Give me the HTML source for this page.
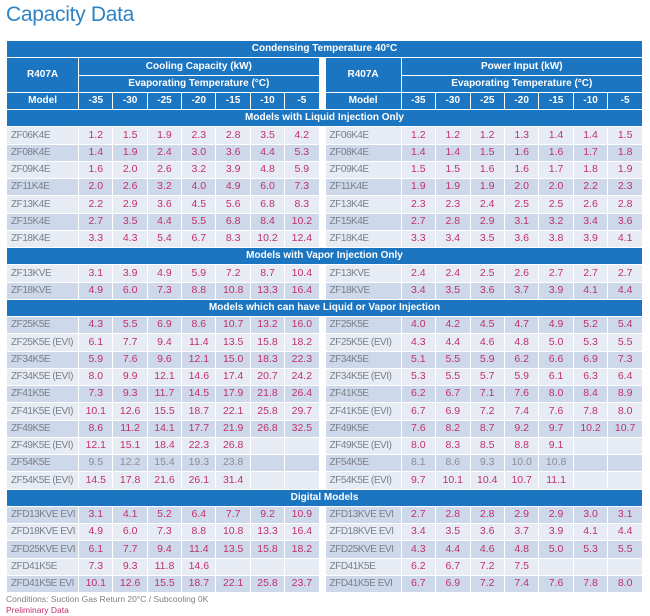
<!DOCTYPE html>
<html><head><meta charset="utf-8"><style>
body{margin:0;width:650px;height:616px;background:#fff;font-family:"Liberation Sans",sans-serif;position:relative;overflow:hidden}
h1{position:absolute;left:6px;top:3px;margin:0;font-weight:normal;font-size:21px;color:#2f83c2;letter-spacing:-0.3px}
table{position:absolute;left:6px;top:40px;border-collapse:collapse;table-layout:fixed;width:637px}
tr{height:17.25px}
td{height:15.5px;line-height:15.5px;padding:0;font-size:10px;text-align:center;vertical-align:middle;border:1px solid #fff;overflow:hidden;white-space:nowrap}
.h td{background:#1b75c1;color:#fff;font-weight:bold}
.h td.g{background:#a9bfdc;border:none}
.s td{background:#1b75c1;color:#fff;font-weight:bold;font-size:10px}
td.m{text-align:left;padding-left:4px;color:#7a7f88;font-size:10px;letter-spacing:-0.45px}
.L td{background:#e7ebf3}
.B td{background:#cdd9eb}
td.v{color:#c0306d;font-size:10.5px}
td.x{color:#8a8e96;font-size:10.5px}
td.g{background:#fff!important;border-left:none;border-right:none}
.foot{position:absolute;left:6px;font-size:8.5px}
</style></head><body>
<h1>Capacity Data</h1>
<table>
<colgroup><col style="width:72px"><col span="7" style="width:34.3px"><col style="width:6px"><col style="width:76px"><col span="7" style="width:34.4px"></colgroup>
<tr class="h"><td colspan="17">Condensing Temperature 40°C</td></tr>
<tr class="h"><td rowspan="2">R407A</td><td colspan="7">Cooling Capacity (kW)</td><td class="g" rowspan="3"></td><td rowspan="2">R407A</td><td colspan="7">Power Input (kW)</td></tr>
<tr class="h"><td colspan="7">Evaporating Temperature (°C)</td><td colspan="7">Evaporating Temperature (°C)</td></tr>
<tr class="h"><td>Model</td><td>-35</td><td>-30</td><td>-25</td><td>-20</td><td>-15</td><td>-10</td><td>-5</td><td>Model</td><td>-35</td><td>-30</td><td>-25</td><td>-20</td><td>-15</td><td>-10</td><td>-5</td></tr>
<tr class="s"><td colspan="17">Models with Liquid Injection Only</td></tr>
<tr class="L"><td class="m">ZF06K4E</td><td class="v">1.2</td><td class="v">1.5</td><td class="v">1.9</td><td class="v">2.3</td><td class="v">2.8</td><td class="v">3.5</td><td class="v">4.2</td><td class="g"></td><td class="m">ZF06K4E</td><td class="v">1.2</td><td class="v">1.2</td><td class="v">1.2</td><td class="v">1.3</td><td class="v">1.4</td><td class="v">1.4</td><td class="v">1.5</td></tr>
<tr class="B"><td class="m">ZF08K4E</td><td class="v">1.4</td><td class="v">1.9</td><td class="v">2.4</td><td class="v">3.0</td><td class="v">3.6</td><td class="v">4.4</td><td class="v">5.3</td><td class="g"></td><td class="m">ZF08K4E</td><td class="v">1.4</td><td class="v">1.4</td><td class="v">1.5</td><td class="v">1.6</td><td class="v">1.6</td><td class="v">1.7</td><td class="v">1.8</td></tr>
<tr class="L"><td class="m">ZF09K4E</td><td class="v">1.6</td><td class="v">2.0</td><td class="v">2.6</td><td class="v">3.2</td><td class="v">3.9</td><td class="v">4.8</td><td class="v">5.9</td><td class="g"></td><td class="m">ZF09K4E</td><td class="v">1.5</td><td class="v">1.5</td><td class="v">1.6</td><td class="v">1.6</td><td class="v">1.7</td><td class="v">1.8</td><td class="v">1.9</td></tr>
<tr class="B"><td class="m">ZF11K4E</td><td class="v">2.0</td><td class="v">2.6</td><td class="v">3.2</td><td class="v">4.0</td><td class="v">4.9</td><td class="v">6.0</td><td class="v">7.3</td><td class="g"></td><td class="m">ZF11K4E</td><td class="v">1.9</td><td class="v">1.9</td><td class="v">1.9</td><td class="v">2.0</td><td class="v">2.0</td><td class="v">2.2</td><td class="v">2.3</td></tr>
<tr class="L"><td class="m">ZF13K4E</td><td class="v">2.2</td><td class="v">2.9</td><td class="v">3.6</td><td class="v">4.5</td><td class="v">5.6</td><td class="v">6.8</td><td class="v">8.3</td><td class="g"></td><td class="m">ZF13K4E</td><td class="v">2.3</td><td class="v">2.3</td><td class="v">2.4</td><td class="v">2.5</td><td class="v">2.5</td><td class="v">2.6</td><td class="v">2.8</td></tr>
<tr class="B"><td class="m">ZF15K4E</td><td class="v">2.7</td><td class="v">3.5</td><td class="v">4.4</td><td class="v">5.5</td><td class="v">6.8</td><td class="v">8.4</td><td class="v">10.2</td><td class="g"></td><td class="m">ZF15K4E</td><td class="v">2.7</td><td class="v">2.8</td><td class="v">2.9</td><td class="v">3.1</td><td class="v">3.2</td><td class="v">3.4</td><td class="v">3.6</td></tr>
<tr class="L"><td class="m">ZF18K4E</td><td class="v">3.3</td><td class="v">4.3</td><td class="v">5.4</td><td class="v">6.7</td><td class="v">8.3</td><td class="v">10.2</td><td class="v">12.4</td><td class="g"></td><td class="m">ZF18K4E</td><td class="v">3.3</td><td class="v">3.4</td><td class="v">3.5</td><td class="v">3.6</td><td class="v">3.8</td><td class="v">3.9</td><td class="v">4.1</td></tr>
<tr class="s"><td colspan="17">Models with Vapor Injection Only</td></tr>
<tr class="L"><td class="m">ZF13KVE</td><td class="v">3.1</td><td class="v">3.9</td><td class="v">4.9</td><td class="v">5.9</td><td class="v">7.2</td><td class="v">8.7</td><td class="v">10.4</td><td class="g"></td><td class="m">ZF13KVE</td><td class="v">2.4</td><td class="v">2.4</td><td class="v">2.5</td><td class="v">2.6</td><td class="v">2.7</td><td class="v">2.7</td><td class="v">2.7</td></tr>
<tr class="B"><td class="m">ZF18KVE</td><td class="v">4.9</td><td class="v">6.0</td><td class="v">7.3</td><td class="v">8.8</td><td class="v">10.8</td><td class="v">13.3</td><td class="v">16.4</td><td class="g"></td><td class="m">ZF18KVE</td><td class="v">3.4</td><td class="v">3.5</td><td class="v">3.6</td><td class="v">3.7</td><td class="v">3.9</td><td class="v">4.1</td><td class="v">4.4</td></tr>
<tr class="s"><td colspan="17">Models which can have Liquid or Vapor Injection</td></tr>
<tr class="B"><td class="m">ZF25K5E</td><td class="v">4.3</td><td class="v">5.5</td><td class="v">6.9</td><td class="v">8.6</td><td class="v">10.7</td><td class="v">13.2</td><td class="v">16.0</td><td class="g"></td><td class="m">ZF25K5E</td><td class="v">4.0</td><td class="v">4.2</td><td class="v">4.5</td><td class="v">4.7</td><td class="v">4.9</td><td class="v">5.2</td><td class="v">5.4</td></tr>
<tr class="L"><td class="m">ZF25K5E (EVI)</td><td class="v">6.1</td><td class="v">7.7</td><td class="v">9.4</td><td class="v">11.4</td><td class="v">13.5</td><td class="v">15.8</td><td class="v">18.2</td><td class="g"></td><td class="m">ZF25K5E (EVI)</td><td class="v">4.3</td><td class="v">4.4</td><td class="v">4.6</td><td class="v">4.8</td><td class="v">5.0</td><td class="v">5.3</td><td class="v">5.5</td></tr>
<tr class="B"><td class="m">ZF34K5E</td><td class="v">5.9</td><td class="v">7.6</td><td class="v">9.6</td><td class="v">12.1</td><td class="v">15.0</td><td class="v">18.3</td><td class="v">22.3</td><td class="g"></td><td class="m">ZF34K5E</td><td class="v">5.1</td><td class="v">5.5</td><td class="v">5.9</td><td class="v">6.2</td><td class="v">6.6</td><td class="v">6.9</td><td class="v">7.3</td></tr>
<tr class="L"><td class="m">ZF34K5E (EVI)</td><td class="v">8.0</td><td class="v">9.9</td><td class="v">12.1</td><td class="v">14.6</td><td class="v">17.4</td><td class="v">20.7</td><td class="v">24.2</td><td class="g"></td><td class="m">ZF34K5E (EVI)</td><td class="v">5.3</td><td class="v">5.5</td><td class="v">5.7</td><td class="v">5.9</td><td class="v">6.1</td><td class="v">6.3</td><td class="v">6.4</td></tr>
<tr class="B"><td class="m">ZF41K5E</td><td class="v">7.3</td><td class="v">9.3</td><td class="v">11.7</td><td class="v">14.5</td><td class="v">17.9</td><td class="v">21.8</td><td class="v">26.4</td><td class="g"></td><td class="m">ZF41K5E</td><td class="v">6.2</td><td class="v">6.7</td><td class="v">7.1</td><td class="v">7.6</td><td class="v">8.0</td><td class="v">8.4</td><td class="v">8.9</td></tr>
<tr class="L"><td class="m">ZF41K5E (EVI)</td><td class="v">10.1</td><td class="v">12.6</td><td class="v">15.5</td><td class="v">18.7</td><td class="v">22.1</td><td class="v">25.8</td><td class="v">29.7</td><td class="g"></td><td class="m">ZF41K5E (EVI)</td><td class="v">6.7</td><td class="v">6.9</td><td class="v">7.2</td><td class="v">7.4</td><td class="v">7.6</td><td class="v">7.8</td><td class="v">8.0</td></tr>
<tr class="B"><td class="m">ZF49K5E</td><td class="v">8.6</td><td class="v">11.2</td><td class="v">14.1</td><td class="v">17.7</td><td class="v">21.9</td><td class="v">26.8</td><td class="v">32.5</td><td class="g"></td><td class="m">ZF49K5E</td><td class="v">7.6</td><td class="v">8.2</td><td class="v">8.7</td><td class="v">9.2</td><td class="v">9.7</td><td class="v">10.2</td><td class="v">10.7</td></tr>
<tr class="L"><td class="m">ZF49K5E (EVI)</td><td class="v">12.1</td><td class="v">15.1</td><td class="v">18.4</td><td class="v">22.3</td><td class="v">26.8</td><td></td><td></td><td class="g"></td><td class="m">ZF49K5E (EVI)</td><td class="v">8.0</td><td class="v">8.3</td><td class="v">8.5</td><td class="v">8.8</td><td class="v">9.1</td><td></td><td></td></tr>
<tr class="B"><td class="m">ZF54K5E</td><td class="x">9.5</td><td class="x">12.2</td><td class="x">15.4</td><td class="x">19.3</td><td class="x">23.8</td><td></td><td></td><td class="g"></td><td class="m">ZF54K5E</td><td class="x">8.1</td><td class="x">8.6</td><td class="x">9.3</td><td class="x">10.0</td><td class="x">10.8</td><td></td><td></td></tr>
<tr class="L"><td class="m">ZF54K5E (EVI)</td><td class="v">14.5</td><td class="v">17.8</td><td class="v">21.6</td><td class="v">26.1</td><td class="v">31.4</td><td></td><td></td><td class="g"></td><td class="m">ZF54K5E (EVI)</td><td class="v">9.7</td><td class="v">10.1</td><td class="v">10.4</td><td class="v">10.7</td><td class="v">11.1</td><td></td><td></td></tr>
<tr class="s"><td colspan="17">Digital Models</td></tr>
<tr class="B"><td class="m">ZFD13KVE EVI</td><td class="v">3.1</td><td class="v">4.1</td><td class="v">5.2</td><td class="v">6.4</td><td class="v">7.7</td><td class="v">9.2</td><td class="v">10.9</td><td class="g"></td><td class="m">ZFD13KVE EVI</td><td class="v">2.7</td><td class="v">2.8</td><td class="v">2.8</td><td class="v">2.9</td><td class="v">2.9</td><td class="v">3.0</td><td class="v">3.1</td></tr>
<tr class="L"><td class="m">ZFD18KVE EVI</td><td class="v">4.9</td><td class="v">6.0</td><td class="v">7.3</td><td class="v">8.8</td><td class="v">10.8</td><td class="v">13.3</td><td class="v">16.4</td><td class="g"></td><td class="m">ZFD18KVE EVI</td><td class="v">3.4</td><td class="v">3.5</td><td class="v">3.6</td><td class="v">3.7</td><td class="v">3.9</td><td class="v">4.1</td><td class="v">4.4</td></tr>
<tr class="B"><td class="m">ZFD25KVE EVI</td><td class="v">6.1</td><td class="v">7.7</td><td class="v">9.4</td><td class="v">11.4</td><td class="v">13.5</td><td class="v">15.8</td><td class="v">18.2</td><td class="g"></td><td class="m">ZFD25KVE EVI</td><td class="v">4.3</td><td class="v">4.4</td><td class="v">4.6</td><td class="v">4.8</td><td class="v">5.0</td><td class="v">5.3</td><td class="v">5.5</td></tr>
<tr class="L"><td class="m">ZFD41K5E</td><td class="v">7.3</td><td class="v">9.3</td><td class="v">11.8</td><td class="v">14.6</td><td></td><td></td><td></td><td class="g"></td><td class="m">ZFD41K5E</td><td class="v">6.2</td><td class="v">6.7</td><td class="v">7.2</td><td class="v">7.5</td><td></td><td></td><td></td></tr>
<tr class="B"><td class="m">ZFD41K5E EVI</td><td class="v">10.1</td><td class="v">12.6</td><td class="v">15.5</td><td class="v">18.7</td><td class="v">22.1</td><td class="v">25.8</td><td class="v">23.7</td><td class="g"></td><td class="m">ZFD41K5E EVI</td><td class="v">6.7</td><td class="v">6.9</td><td class="v">7.2</td><td class="v">7.4</td><td class="v">7.6</td><td class="v">7.8</td><td class="v">8.0</td></tr>
</table>
<div class="foot" style="top:594px;color:#7a7f88">Conditions: Suction Gas Return 20°C / Subcooling 0K</div>
<div class="foot" style="top:605px;color:#c0306d">Preliminary Data</div>
</body></html>
